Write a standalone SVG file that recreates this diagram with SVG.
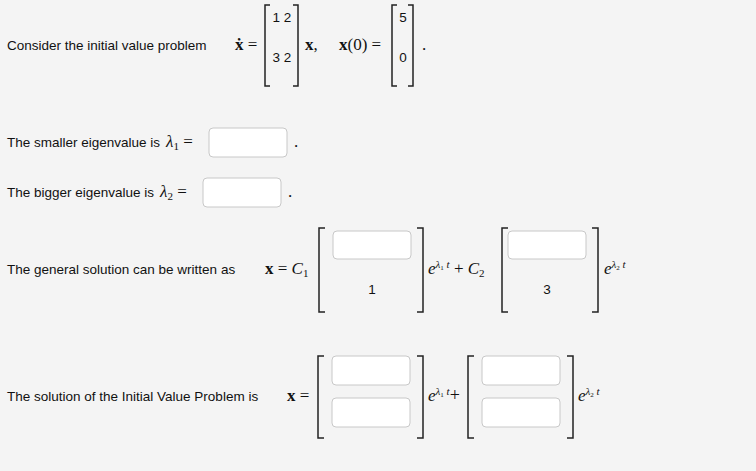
<svg xmlns="http://www.w3.org/2000/svg" width="756" height="471" viewBox="0 0 756 471">
<style>
.t{font-family:"Liberation Sans",Arial,sans-serif;font-size:13.5px;fill:#111}
.m{font-family:"Liberation Serif","Times New Roman",serif;font-size:17px;fill:#111}
.b{fill:none;stroke:#222;stroke-width:1.5}
.box{fill:#fff;stroke:#c8c8c8;stroke-width:1}
.s{font-size:11px}
</style>
<rect width="756" height="471" fill="#f4f4f4"/>
<g id="row1">
<text class="t" x="7" y="50">Consider the initial value problem</text>
<text class="m" x="235" y="50"><tspan font-weight="bold">ẋ</tspan> =</text>
<path class="b" d="M270,5 H265 V86 H270 M293,5 H298 V86 H293"/>
<text class="t" x="282" y="22" text-anchor="middle">1 2</text>
<text class="t" x="282" y="62" text-anchor="middle">3 2</text>
<text class="m" x="305" y="50"><tspan font-weight="bold">x</tspan>,</text>
<text class="m" x="339" y="50"><tspan font-weight="bold">x</tspan>(0) =</text>
<path class="b" d="M397,5 H392 V86 H397 M408,5 H413 V86 H408"/>
<text class="t" x="403" y="22" text-anchor="middle">5</text>
<text class="t" x="403" y="62" text-anchor="middle">0</text>
<text class="m" x="422" y="50">.</text>
</g>
<g id="row2">
<text class="t" x="7" y="147">The smaller eigenvalue is</text>
<text class="m" x="166" y="147"><tspan font-style="italic">λ</tspan><tspan class="s" dy="3">1</tspan><tspan dy="-3"> =</tspan></text>
<rect class="box" x="209" y="128" width="78" height="29" rx="4"/>
<text class="m" x="294" y="147">.</text>
</g>
<g id="row3">
<text class="t" x="7" y="197">The bigger eigenvalue is</text>
<text class="m" x="160" y="197"><tspan font-style="italic">λ</tspan><tspan class="s" dy="3">2</tspan><tspan dy="-3"> =</tspan></text>
<rect class="box" x="203" y="178" width="78" height="29" rx="4"/>
<text class="m" x="288" y="197">.</text>
</g>
<g id="row4">
<text class="t" x="7" y="274">The general solution can be written as</text>
<text class="m" x="265" y="274"><tspan font-weight="bold">x</tspan> = <tspan font-style="italic">C</tspan><tspan class="s" dy="3">1</tspan></text>
<path class="b" d="M325,228 H319 V312 H325 M417,228 H423 V312 H417"/>
<rect class="box" x="333" y="231" width="78" height="28" rx="4"/>
<text class="t" x="372" y="294" text-anchor="middle">1</text>
<text class="m" x="428" y="274"><tspan font-style="italic">e</tspan><tspan class="s" dy="-6" font-style="italic">λ</tspan><tspan dy="2" font-size="7">1</tspan><tspan class="s" dy="-2" font-style="italic"> t</tspan><tspan dy="6"> + </tspan><tspan font-style="italic">C</tspan><tspan class="s" dy="3">2</tspan></text>
<path class="b" d="M508,228 H502 V312 H508 M592,228 H598 V312 H592"/>
<rect class="box" x="508" y="231" width="78" height="28" rx="4"/>
<text class="t" x="547" y="294" text-anchor="middle">3</text>
<text class="m" x="604" y="274"><tspan font-style="italic">e</tspan><tspan class="s" dy="-6" font-style="italic">λ</tspan><tspan dy="2" font-size="7">2</tspan><tspan class="s" dy="-2" font-style="italic"> t</tspan></text>
</g>
<g id="row5">
<text class="t" x="7" y="401">The solution of the Initial Value Problem is</text>
<text class="m" x="287" y="401"><tspan font-weight="bold">x</tspan> =</text>
<path class="b" d="M324,356 H318 V438 H324 M417,356 H423 V438 H417"/>
<rect class="box" x="332" y="356" width="78" height="29" rx="4"/>
<rect class="box" x="332" y="398" width="78" height="29" rx="4"/>
<text class="m" x="428" y="401"><tspan font-style="italic">e</tspan><tspan class="s" dy="-6" font-style="italic">λ</tspan><tspan dy="2" font-size="7">1</tspan><tspan class="s" dy="-2" font-style="italic"> t</tspan><tspan dy="6" font-size="18">+</tspan></text>
<path class="b" d="M474,356 H468 V438 H474 M567,356 H573 V438 H567"/>
<rect class="box" x="482" y="356" width="78" height="29" rx="4"/>
<rect class="box" x="482" y="398" width="78" height="29" rx="4"/>
<text class="m" x="578" y="401"><tspan font-style="italic">e</tspan><tspan class="s" dy="-6" font-style="italic">λ</tspan><tspan dy="2" font-size="7">2</tspan><tspan class="s" dy="-2" font-style="italic"> t</tspan></text>
</g>
</svg>
